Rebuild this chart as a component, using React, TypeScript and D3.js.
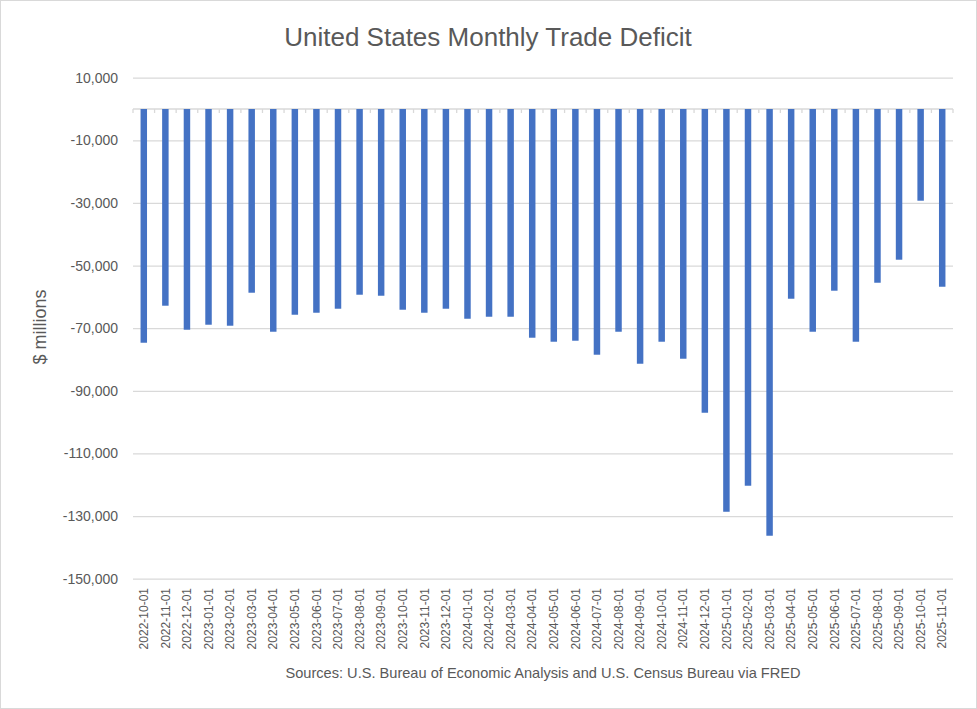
import { useEffect, useRef } from 'react'
import * as d3 from 'd3'

const months = [
  '2022-10-01', '2022-11-01', '2022-12-01',
  '2023-01-01', '2023-02-01', '2023-03-01', '2023-04-01', '2023-05-01', '2023-06-01',
  '2023-07-01', '2023-08-01', '2023-09-01', '2023-10-01', '2023-11-01', '2023-12-01',
  '2024-01-01', '2024-02-01', '2024-03-01', '2024-04-01', '2024-05-01', '2024-06-01',
  '2024-07-01', '2024-08-01', '2024-09-01', '2024-10-01', '2024-11-01', '2024-12-01',
  '2025-01-01', '2025-02-01', '2025-03-01', '2025-04-01', '2025-05-01', '2025-06-01',
  '2025-07-01', '2025-08-01', '2025-09-01', '2025-10-01', '2025-11-01',
]

// trade balance, $ millions
const balance = [
  -74640, -62820, -70490,
  -68890, -69210, -58670, -71130, -65700, -65060,
  -63780, -59310, -59630, -64100, -65060, -63780,
  -66980, -66340, -66340, -73040, -74320, -74000,
  -78470, -71130, -81350, -74320, -79750, -97000,
  -128620, -120310, -136280, -60590, -71130, -58030,
  -74320, -55480, -48130, -29290, -56760,
]

const yTicks = [10000, -10000, -30000, -50000, -70000, -90000, -110000, -130000, -150000]

const W = 977
const H = 709
const FONT = '"Liberation Sans", Arial, sans-serif'
const GREY = '#d9d9d9'
const TXT = '#595959'

// plain hyphen for negatives, thousands separators
const fmt = (v: number) => d3.format(',')(v).replace('\u2212', '-')

export default function App() {
  const svgRef = useRef<SVGSVGElement>(null)

  useEffect(() => {
    const svg = d3.select(svgRef.current)
    svg.selectAll('*').remove()

    const x = d3.scaleBand().domain(months).range([133, 953]).paddingInner(0.7).paddingOuter(0.35)
    const y = d3.scaleLinear().domain([-150000, 10000]).range([578.7, 77.7])

    svg.append('rect').attr('x', 0.5).attr('y', 0.5).attr('width', W - 1).attr('height', H - 1)
      .attr('fill', '#fff').attr('stroke', GREY)

    // gridlines + y labels
    const ya = svg.append('g').attr('transform', 'translate(133,0)')
      .call(d3.axisLeft(y).tickValues(yTicks).tickSize(-820).tickPadding(15).tickFormat(d => fmt(+d)))
    ya.select('.domain').remove()
    ya.selectAll('.tick line').attr('stroke', GREY).attr('stroke-width', 1.3)
    ya.selectAll('.tick text').attr('fill', TXT).attr('font-size', '14px').attr('font-family', FONT)

    // zero axis with category tick marks
    const y0 = y(0)
    svg.append('line').attr('x1', 133).attr('x2', 953).attr('y1', y0).attr('y2', y0)
      .attr('stroke', GREY).attr('stroke-width', 1.3)
    svg.append('g').selectAll('line')
      .data(d3.range(months.length + 1))
      .join('line')
      .attr('x1', i => 133 + i * x.step()).attr('x2', i => 133 + i * x.step())
      .attr('y1', y0).attr('y2', y0 + 4)
      .attr('stroke', GREY).attr('stroke-width', 1.3)

    svg.append('g').selectAll('rect')
      .data(balance)
      .join('rect')
      .attr('x', (_, i) => x(months[i])!)
      .attr('width', x.bandwidth())
      .attr('y', d => y(Math.max(0, d)))
      .attr('height', d => Math.abs(y(d) - y0))
      .attr('fill', '#4472c4')

    // rotated month labels
    svg.append('g').selectAll('text')
      .data(months)
      .join('text')
      .attr('transform', d => `translate(${x(d)! + x.bandwidth() / 2},588) rotate(-90)`)
      .attr('text-anchor', 'end').attr('dy', '0.35em')
      .attr('fill', TXT).attr('font-size', '12px').attr('font-family', FONT)
      .text(d => d)

    svg.append('text').attr('x', 488).attr('y', 46).attr('text-anchor', 'middle')
      .attr('fill', TXT).attr('font-size', '26px').attr('font-family', FONT)
      .text('United States Monthly Trade Deficit')

    svg.append('text').attr('transform', 'translate(46,327) rotate(-90)').attr('text-anchor', 'middle')
      .attr('fill', TXT).attr('font-size', '18px').attr('font-family', FONT)
      .text('$ millions')

    svg.append('text').attr('x', 543).attr('y', 678).attr('text-anchor', 'middle')
      .attr('fill', TXT).attr('font-size', '14.6px').attr('font-family', FONT)
      .text('Sources: U.S. Bureau of Economic Analysis and U.S. Census Bureau via FRED')
  }, [])

  return (
    <div style={{ position: 'absolute', left: 0, top: 0 }}>
      <svg ref={svgRef} width={W} height={H} style={{ display: 'block' }} />
    </div>
  )
}
